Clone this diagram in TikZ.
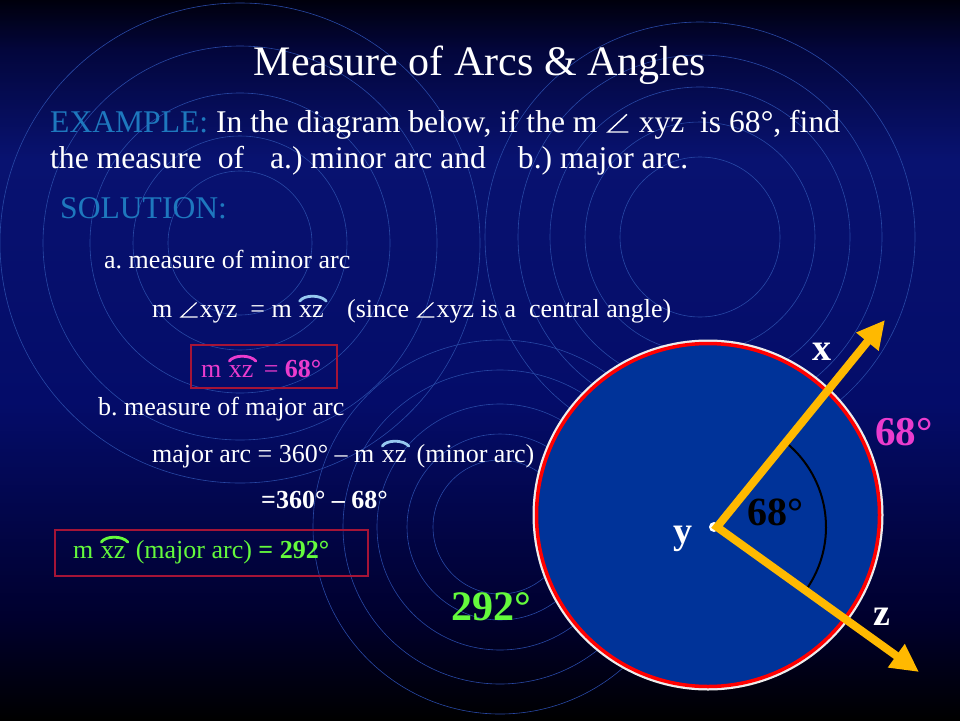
\documentclass[tikz,border=0pt]{standalone}
\usepackage{fontspec}
\setmainfont{Liberation Serif}
\usetikzlibrary{arrows.meta}
\frenchspacing
\definecolor{exblue}{RGB}{30,120,190}
\definecolor{ringc}{RGB}{40,72,165}
\definecolor{boxred}{RGB}{165,20,55}
\definecolor{mag}{RGB}{235,60,205}
\definecolor{grn}{RGB}{100,250,60}
\definecolor{arclb}{RGB}{150,200,240}
\definecolor{orng}{RGB}{255,185,0}
\definecolor{cfill}{RGB}{0,51,153}
\definecolor{bgA}{RGB}{0,0,45}
\definecolor{bgB}{RGB}{4,12,105}
\definecolor{bgC}{RGB}{8,18,112}
\definecolor{bgD}{RGB}{3,6,60}
\definecolor{bgE}{RGB}{0,0,12}
\pgfdeclareverticalshading{bgshade}{100bp}{color(0bp)=(black); color(25bp)=(black); color(32bp)=(bgA); color(47bp)=(bgB); color(64bp)=(bgC); color(71.5bp)=(bgD); color(75bp)=(bgE); color(100bp)=(bgE)}
\newcommand\arcxz[1]{\tikz[baseline=(ax.base)]{\node[anchor=base,inner sep=0pt,outer sep=0pt,draw=none,fill=none] (ax) {xz};
  \draw[#1,line width=2.8pt,line cap=round] ([xshift=0.5pt,yshift=4pt]ax.north west) .. controls ([xshift=5pt,yshift=10.5pt]ax.north west) and ([xshift=-3pt,yshift=10.5pt]ax.north east) .. ([xshift=2.5pt,yshift=4pt]ax.north east);}}
\newcommand\angsym{\hspace{0.06em}\tikz[baseline=0pt]{\draw[line width=0.045em,line join=miter,line cap=butt] (0.6em,0.56em) -- (0,0) -- (0.64em,0);}\hspace{0.06em}}
\begin{document}
\begin{tikzpicture}[x=1pt,y=-1pt,
  txt/.style={anchor=base west,inner sep=0pt,text=white},
  big/.style={font=\fontsize{31.6}{36}\selectfont},
  mid/.style={font=\fontsize{26}{30}\selectfont},
  lbl/.style={anchor=base west,inner sep=0pt,font=\fontsize{38}{44}\selectfont\bfseries},
  ring/.style={draw=ringc,line width=0.6pt},
  ansbox/.style={draw=boxred,line width=2pt,inner sep=0pt},
  ray/.style={draw=orng,line width=8pt,{Triangle[length=28pt,width=27pt]}-{Triangle[length=28pt,width=27pt]}}]
\useasboundingbox (0,0) rectangle (960,720);
\shade[shading=bgshade] (0,0) rectangle (960,720);
% background rings
\foreach \r in {72,107,150,197,240} \draw[ring] (240,243) circle[radius=\r];
\foreach \r in {80,115,150,182,215} \draw[ring] (700,237) circle[radius=\r];
\foreach \r in {67,93,123,157,187} \draw[ring] (500,527) circle[radius=\r];
% texts
\node[txt,anchor=base,font=\fontsize{42}{48}\selectfont] (title) at (480,75) {Measure of Arcs \& Angles};
\node[txt,big] (ex1) at (50,132) {\textcolor{exblue}{EXAMPLE:} In the diagram below, if the m \angsym\ xyz\ \ is 68°, find};
\node[txt,big] (ex2) at (50,168) {the measure\ \ of\hspace{26pt}a.) minor arc and\hspace{32pt}b.) major arc.};
\node[txt,big,text=exblue] (sol) at (60,218) {SOLUTION:};
\node[txt,mid] (pa) at (104,268) {a. measure of minor arc};
\node[txt,mid] (pa1) at (152,317) {m \angsym xyz\ \ = m \arcxz{arclb}\ \ \ (since \angsym xyz is a\ \ central angle)};
\node[ansbox,minimum width=146pt,minimum height=43pt] (box1) at (264,366) {};
\node[txt,mid,text=mag] (ans1) at (201,377) {m \arcxz{mag} = \textbf{68°}};
\node[txt,mid] (pb) at (98,415) {b. measure of major arc};
\node[txt,mid] (pb1) at (152,462) {major arc = 360° – m \arcxz{arclb} (minor arc)};
\node[txt,font=\fontsize{26}{30}\selectfont\bfseries] (pb2) at (261,508) {=360° – 68°};
\node[ansbox,minimum width=313pt,minimum height=46pt] (box2) at (211.5,553) {};
\node[txt,mid,text=grn] (ans2) at (73,558) {m \arcxz{grn} (major arc) \textbf{= 292°}};
% circle diagram
\fill[cfill] (708,515) circle[radius=173];
\draw[white!85!gray,line width=5pt] (708,515) circle[radius=173];
\draw[red,line width=3.5pt] (708,515) circle[radius=171.5];
\coordinate (Y) at (717,527);
\coordinate (X) at (885,320);
\coordinate (Z) at (919,672);
\fill[white] (Y) ++(-3,0) circle[radius=5];
\draw[black,line width=2pt] (Y) ++(-50.9:109) arc[start angle=-50.9,end angle=35.7,radius=109];
\draw[ray] (X) -- (Y) -- (Z);
\node[lbl,text=white] (lx) at (812,360) {x};
\node[lbl,text=mag,font=\fontsize{41}{46}\selectfont\bfseries] (l68m) at (875,445) {68°};
\node[lbl,text=white] (ly) at (673,543) {y};
\node[lbl,text=black,font=\fontsize{40}{46}\selectfont\bfseries] (l68b) at (747,525) {68°};
\node[lbl,text=white] (lz) at (873,625) {z};
\node[lbl,text=grn,font=\fontsize{42}{46}\selectfont\bfseries] (l292) at (451,620) {292°};
\end{tikzpicture}
\end{document}
